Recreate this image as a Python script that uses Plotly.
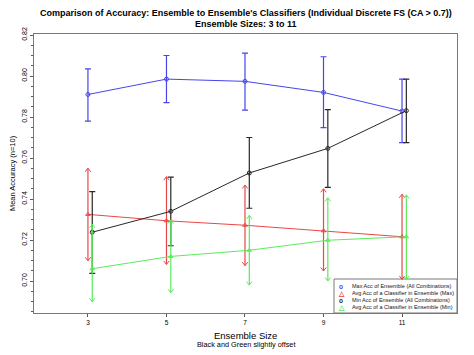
import plotly.graph_objects as go

sizes = [3, 5, 7, 9, 11]
offset = 0.11

max_ens = [0.7910, 0.7985, 0.7974, 0.7920, 0.7829]
max_ens_hi = [0.8035, 0.8100, 0.8112, 0.8094, 0.7985]
max_ens_lo = [0.7780, 0.7870, 0.7834, 0.7748, 0.7675]

avg_max = [0.7325, 0.7294, 0.7272, 0.7245, 0.7216]
avg_max_hi = [0.7550, 0.7509, 0.7468, 0.7450, 0.7423]
avg_max_lo = [0.7099, 0.7081, 0.7075, 0.7049, 0.7008]

min_ens = [0.7238, 0.7340, 0.7527, 0.7647, 0.7831]
min_ens_hi = [0.7436, 0.7507, 0.7700, 0.7836, 0.7985]
min_ens_lo = [0.7037, 0.7172, 0.7355, 0.7457, 0.7675]

avg_min = [0.7060, 0.7120, 0.7150, 0.7199, 0.7216]
avg_min_hi = [0.7277, 0.7298, 0.7320, 0.7406, 0.7420]
avg_min_lo = [0.6899, 0.6943, 0.6980, 0.7000, 0.7008]

legend_labels = ["Max Acc of Ensemble (All Combinations)",
                 "Avg Acc of a Classifier in Ensemble (Max)",
                 "Min Acc of Ensemble (All Combinations)",
                 "Avg Acc of a Classifier in Ensemble (Min)"]
legend_symbols = ["o", "△", "o", "△"]

BLUE = "rgb(70,70,235)"
RED = "rgb(235,70,70)"
BLACK = "rgb(40,40,40)"
GREEN = "rgb(90,235,90)"
legend_colors = [BLUE, RED, BLACK, GREEN]

W, H = 474, 355
ML, MR, MT, MB = 34, 17, 34, 42
PW, PH = W - ML - MR, H - MT - MB

fig = go.Figure()


def series(xs, ys, hi, lo, color, symbol, arrow):
    fig.add_trace(go.Scatter(
        x=xs, y=ys, mode="lines+markers", showlegend=False,
        line=dict(color=color, width=1),
        marker=dict(symbol=symbol, size=4, color=color, line=dict(color=color, width=1)),
        error_y=dict(type="data", symmetric=False,
                     array=[h - y for h, y in zip(hi, ys)],
                     arrayminus=[y - l for y, l in zip(ys, lo)],
                     color=color, thickness=1.2, width=0 if arrow else 3),
    ))


def chevrons(xs, hi, lo, color):
    dx, dy = 0.07, 0.0017
    px, py = [], []
    for x, h, l in zip(xs, hi, lo):
        px += [x - dx, x, x + dx, None, x - dx, x, x + dx, None]
        py += [h - dy, h, h - dy, None, l + dy, l, l + dy, None]
    fig.add_trace(go.Scatter(x=px, y=py, mode="lines", showlegend=False,
                             line=dict(color=color, width=1), hoverinfo="skip"))


xs_off = [s + offset for s in sizes]
series(sizes, max_ens, max_ens_hi, max_ens_lo, BLUE, "circle-open", False)
series(sizes, avg_max, avg_max_hi, avg_max_lo, RED, "triangle-up-open", True)
series(xs_off, min_ens, min_ens_hi, min_ens_lo, BLACK, "circle-open", False)
series(xs_off, avg_min, avg_min_hi, avg_min_lo, GREEN, "triangle-up-open", True)
chevrons(sizes, avg_max_hi, avg_max_lo, RED)
chevrons(xs_off, avg_min_hi, avg_min_lo, GREEN)

FONT = "Liberation Sans, Arial, sans-serif"


def px_x(px):
    return (px - ML) / PW


def px_y(py):
    return (H - MB - py) / PH


annotations = [
    dict(text="<b>Comparison of Accuracy: Ensemble to Ensemble's Classifiers (Individual Discrete FS (CA > 0.7))</b>",
         x=0.5, y=px_y(13), font=dict(size=9)),
    dict(text="<b>Ensemble Sizes: 3 to 11</b>", x=0.5, y=px_y(24.5), font=dict(size=9)),
    dict(text="Ensemble Size", x=0.5, y=px_y(335), font=dict(size=9.5)),
    dict(text="Black and Green slightly offset", x=0.5, y=px_y(344), font=dict(size=7.3)),
]
for a in annotations:
    a.update(xref="paper", yref="paper", showarrow=False, xanchor="center", yanchor="middle")

# manual legend
leg_rows = [286, 293, 300, 307]
for lab, sym, col, ry in zip(legend_labels, legend_symbols, legend_colors, leg_rows):
    annotations.append(dict(text="<b>" + sym + "</b>", x=px_x(341), y=px_y(ry), xref="paper", yref="paper",
                            showarrow=False, xanchor="center", yanchor="middle",
                            font=dict(size=6.5, color=col)))
    annotations.append(dict(text=lab, x=px_x(350), y=px_y(ry), xref="paper", yref="paper",
                            showarrow=False, xanchor="left", yanchor="middle",
                            font=dict(size=5.5, color="rgb(20,20,20)")))

shapes = [dict(type="rect", xref="paper", yref="paper",
               x0=px_x(334), x1=1, y0=0, y1=px_y(279),
               line=dict(color="rgb(120,120,120)", width=1), fillcolor="white", layer="below")]

fig.update_layout(
    width=W, height=H,
    margin=dict(l=ML, r=MR, t=MT, b=MB),
    paper_bgcolor="white", plot_bgcolor="white",
    font=dict(family=FONT, color="black", size=7),
    showlegend=False,
    xaxis=dict(range=[1.626, 12.4], tickvals=sizes, ticktext=[str(s) for s in sizes],
               ticks="outside", ticklen=3, tickcolor="rgb(90,90,90)",
               showgrid=False, zeroline=False, showline=True, mirror=True,
               linecolor="rgb(120,120,120)", linewidth=1, automargin=False,
               tickfont=dict(size=6.5)),
    yaxis=dict(range=[0.6844, 0.8205], tickvals=[0.70, 0.72, 0.74, 0.76, 0.78, 0.80, 0.82],
               ticktext=["0.70", "0.72", "0.74", "0.76", "0.78", "0.80", "0.82"],
               tickangle=-90, ticks="outside", ticklen=3, tickcolor="rgb(90,90,90)",
               minor=dict(dtick=0.005, tick0=0.68, ticks="outside", ticklen=2,
                          tickcolor="rgb(90,90,90)", showgrid=False),
               showgrid=False, zeroline=False, showline=True, mirror=True,
               linecolor="rgb(120,120,120)", linewidth=1, automargin=False,
               tickfont=dict(size=7),
               title=dict(text="Mean Accuracy (n=10)", font=dict(size=7.5), standoff=4)),
    annotations=annotations,
    shapes=shapes,
)

fig.write_html("out.html", config={"displayModeBar": False},
               post_script="document.body.style.margin='0';")
